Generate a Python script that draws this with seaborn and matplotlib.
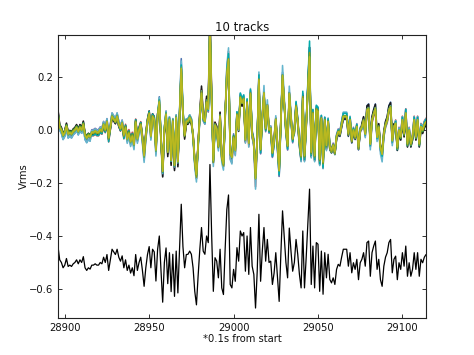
import numpy as np
import pandas as pd
import matplotlib
matplotlib.use("Agg")
import matplotlib.pyplot as plt
import seaborn as sns

# ---- data ----
start_time = 28896
mean_vrms = [
    0.06, 0.01, 0.00, -0.02, -0.01, 0.015, -0.015, -0.01, -0.015, -0.005,
    0.00, 0.01, -0.005, 0.01, 0.00, 0.022, -0.02, -0.03, -0.02, -0.025,
    -0.01, -0.01, -0.005, -0.01, -0.01, 0.00, -0.005, 0.02, 0.00, 0.03,
    -0.03, 0.01, 0.05, 0.04, 0.03, 0.05, 0.02, 0.005, 0.025, -0.02,
    0.01, -0.03, -0.01, -0.04, -0.02, -0.05, 0.03, -0.03, 0.00, 0.02,
    -0.03, -0.09, -0.02, 0.03, 0.06, -0.02, 0.05, 0.04, -0.07, 0.05,
    0.10, -0.03, -0.15, 0.00, 0.055, -0.08, 0.037, -0.11, 0.031, -0.128,
    0.043, -0.115, 0.05, 0.22, 0.06, -0.02, 0.03, 0.031, 0.043, 0.031,
    -0.02, -0.109, -0.16, -0.05, 0.05, 0.132, 0.043, 0.031, 0.10, 0.075,
    0.37, 0.106, -0.109, 0.018, 0.005, -0.058, 0.05, -0.096, -0.121, 0.05,
    0.20, 0.255, -0.083, -0.096, -0.026, -0.071, 0.056, 0.005, 0.119, 0.10,
    0.113, -0.033, 0.10, -0.045, 0.132, -0.014, -0.045, -0.172, -0.033, 0.182,
    -0.071, 0.043, 0.132, 0.005, 0.087, 0.00, 0.005, -0.083, -0.04, 0.037,
    -0.058, -0.147, 0.031, 0.195, 0.10, 0.00, -0.058, 0.13, 0.043, -0.033,
    0.00, 0.087, 0.031, -0.045, -0.096, 0.119, -0.096, 0.018, 0.15, 0.277,
    -0.083, 0.062, -0.096, 0.075, 0.069, -0.109, 0.043, -0.12, 0.037, -0.058,
    0.031, -0.064, -0.077, -0.058, -0.083, -0.026, -0.007, -0.014, 0.02, 0.05,
    0.05, 0.05, -0.014, 0.037, -0.039, -0.001, -0.026, 0.012, -0.065, -0.001,
    0.012, 0.037, -0.014, 0.075, 0.081, -0.052, 0.037, 0.062, 0.081, -0.026,
    0.012, -0.065, -0.09, -0.014, 0.02, 0.037, 0.075, 0.087, -0.039, 0.012,
    0.024, -0.065, -0.001, -0.026, 0.037, -0.014, 0.062, -0.052, -0.001, -0.052,
    -0.026, 0.037, -0.026, 0.037, -0.052, 0.012, -0.001, 0.02, 0.03,
]
track_colors = ["b", "r", "m", "k", "c", "#00aaaa", "g", "#3a9a3a", "#8fa020", "#b8b820"]
# per-track amplitude, one value per block of 20 samples
track_gains = [
    [1.15, 1.00, 1.05, 1.20, 1.05, 1.00, 1.15, 1.10, 1.00, 1.15, 1.05],
    [1.05, 1.15, 1.00, 1.05, 1.10, 1.20, 1.00, 1.05, 1.15, 1.00, 1.10],
    [1.00, 1.05, 1.15, 1.00, 1.00, 1.05, 1.10, 1.00, 1.05, 1.10, 1.15],
    [1.10, 1.00, 1.10, 1.10, 1.20, 1.00, 1.05, 1.15, 1.00, 1.05, 1.00],
    [1.20, 1.10, 1.20, 1.15, 1.15, 1.25, 1.20, 1.10, 1.20, 1.20, 1.10],
    [1.05, 1.20, 1.05, 1.10, 1.05, 1.10, 1.10, 1.20, 1.10, 1.05, 1.20],
    [1.00, 1.05, 1.10, 1.05, 1.10, 1.05, 1.05, 1.00, 1.05, 1.00, 1.05],
    [0.95, 1.00, 1.00, 1.00, 1.05, 1.00, 1.00, 1.05, 1.00, 0.95, 1.00],
    [1.00, 1.05, 1.05, 1.05, 1.10, 1.05, 1.05, 1.05, 1.05, 1.00, 1.05],
    [1.00, 1.00, 1.05, 1.05, 1.05, 1.05, 1.05, 1.00, 1.00, 1.00, 1.00],
]
# per-track level shift, one value per block of 20 samples
track_shifts = [
    [-0.012, 0.010, -0.008, 0.006, -0.010, 0.012, -0.006, 0.008, -0.010, 0.006, -0.008],
    [0.008, -0.010, 0.012, -0.006, 0.010, -0.008, 0.010, -0.012, 0.006, -0.010, 0.012],
    [-0.006, 0.012, -0.010, 0.010, -0.006, 0.006, -0.012, 0.010, 0.012, -0.006, 0.008],
    [0.010, -0.006, 0.006, -0.012, 0.008, -0.010, 0.006, -0.006, -0.008, 0.012, -0.012],
    [-0.012, 0.010, -0.014, 0.008, -0.012, -0.008, 0.010, -0.014, 0.008, -0.012, 0.010],
    [0.004, -0.008, 0.008, 0.004, -0.004, 0.008, -0.008, 0.004, 0.008, -0.004, 0.004],
    [-0.004, 0.004, -0.004, 0.008, 0.004, -0.004, 0.004, -0.008, -0.004, 0.004, -0.004],
    [0.006, 0.000, 0.004, -0.004, 0.000, 0.004, -0.004, 0.000, 0.004, 0.000, -0.004],
    [0.002, -0.002, 0.002, 0.000, -0.002, 0.002, 0.000, 0.002, -0.002, 0.002, 0.000],
    [0.000, 0.002, -0.002, 0.002, 0.000, -0.002, 0.002, 0.000, 0.002, -0.002, 0.002],
]
block_len = 20
mean_offset = -0.5

# ---- build ----
n = len(mean_vrms)
times = start_time + np.arange(n)
base = np.array(mean_vrms)

sns.set_theme(style="white")
plt.rcParams.update({
    "font.family": ["DejaVu Sans"],
    "xtick.direction": "in", "ytick.direction": "in",
    "xtick.top": True, "ytick.right": True,
    "xtick.bottom": True, "ytick.left": True,
    "xtick.major.size": 3, "ytick.major.size": 3,
    "xtick.major.width": 0.6, "ytick.major.width": 0.6,
    "xtick.labelsize": 7.2, "ytick.labelsize": 7.2,
    "axes.edgecolor": "#222222", "axes.linewidth": 0.8,
    "xtick.color": "#111111", "ytick.color": "#111111",
    "text.color": "#111111", "axes.labelcolor": "#111111",
})

fig = plt.figure(figsize=(4.74, 3.55), dpi=100)
ax = fig.add_axes([0.1224, 0.104, 0.7764, 0.798])

for c, g, s in zip(track_colors, track_gains, track_shifts):
    gain = np.repeat(g, block_len)[:n]
    shift = np.repeat(s, block_len)[:n]
    df = pd.DataFrame({"t": times, "v": base * gain + shift})
    sns.lineplot(data=df, x="t", y="v", color=c, linewidth=1.15, ax=ax)

dfm = pd.DataFrame({"t": times, "v": base + mean_offset})
sns.lineplot(data=dfm, x="t", y="v", color="black", linewidth=0.9, ax=ax)

ax.set_xlim(times[0], times[-1])
ax.set_ylim(-0.71, 0.36)
ax.set_xticks([28900, 28950, 29000, 29050, 29100])
ax.set_yticks([-0.6, -0.4, -0.2, 0.0, 0.2])
ax.ticklabel_format(useOffset=False, axis="x")
ax.set_title("10 tracks", fontsize=8.4, pad=3)
ax.set_xlabel("*0.1s from start", fontsize=7.2, labelpad=1)
ax.set_ylabel("Vrms", fontsize=7.2, labelpad=0)
for sp in ax.spines.values():
    sp.set_visible(True)

fig.savefig("out.png", dpi=100, facecolor="white")
